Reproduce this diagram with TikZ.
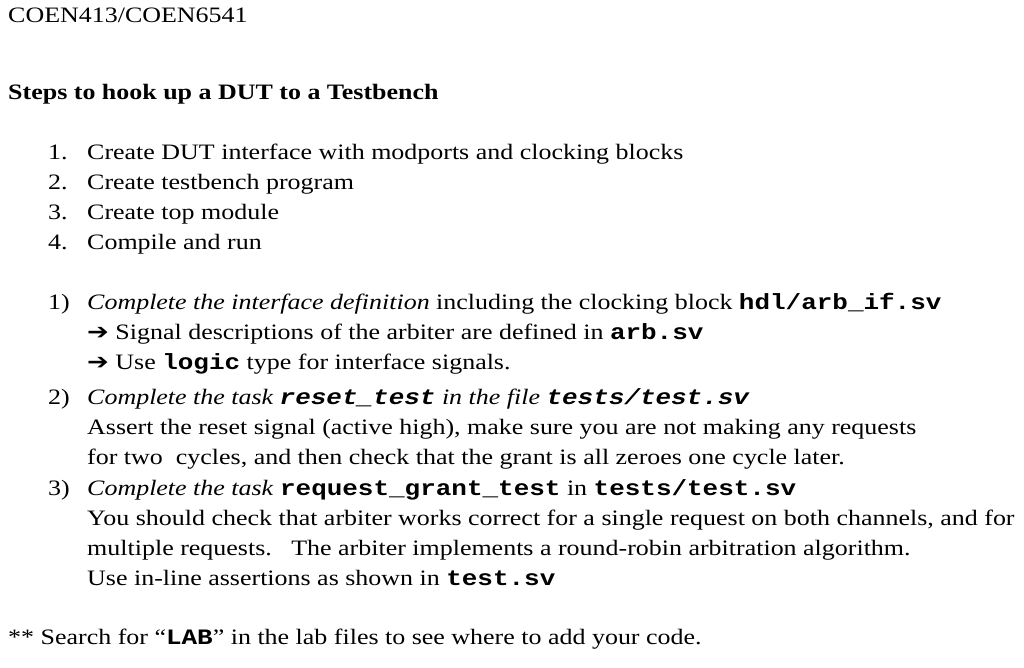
\documentclass[tikz,border=0pt]{standalone}
\usepackage{fontspec}
\setmainfont{Liberation Serif}
\setmonofont{Liberation Mono}
\newfontfamily\arrowfont{DejaVu Sans}
\newcommand{\code}[1]{{\ttfamily\bfseries #1}}
\newcommand{\rarr}{{\arrowfont\bfseries ➔}}

\begin{document}
\begin{tikzpicture}[x=1pt, y=-1pt,
	line/.style={anchor=base west, inner sep=0pt, xscale=1.18, font=\fontsize{22}{26}\selectfont}]
		%%%%% START %%%%%
		\useasboundingbox[fill=white] (0, 0) rectangle (1024, 668);
		
		\node[line] (course) at (8, 23) {COEN413/COEN6541};
		\node[line] (title) at (8, 100) {\textbf{Steps to hook up a DUT to a Testbench}};
		
		% numbered steps
		\foreach \n/\y/\txt in {1/160/Create DUT interface with modports and clocking blocks,
			2/190/Create testbench program,
			3/219/Create top module,
			4/249/Compile and run}
		{
			\node[line] (num\n) at (48, \y) {\n.};
			\node[line] (step\n) at (87, \y) {\txt};
		}
		
		% tasks
		\node[line] (task1) at (48, 309) {1)};
		\node[line] (task1a) at (87, 309) {\textit{Complete the interface definition} including the clocking block \code{hdl/arb\_if.sv}};
		\node[line] (task1b) at (87, 339) {\rarr\ Signal descriptions of the arbiter are defined in \code{arb.sv}};
		\node[line] (task1c) at (87, 369) {\rarr\ Use \code{logic} type for interface signals.};
		
		\node[line] (task2) at (48, 404) {2)};
		\node[line] (task2a) at (87, 404) {\textit{Complete the task \code{reset\_test} in the file \code{tests/test.sv}}};
		\node[line] (task2b) at (87, 434) {Assert the reset signal (active high), make sure you are not making any requests};
		\node[line] (task2c) at (87, 464) {for two\ \ cycles, and then check that the grant is all zeroes one cycle later.};
		
		\node[line] (task3) at (48, 495) {3)};
		\node[line] (task3a) at (87, 495) {\textit{Complete the task} \code{request\_grant\_test} in \code{tests/test.sv}};
		\node[line] (task3b) at (87, 525) {You should check that arbiter works correct for a single request on both channels, and for};
		\node[line] (task3c) at (87, 555) {multiple requests.\ \ \ The arbiter implements a round-robin arbitration algorithm.};
		\node[line] (task3d) at (87, 585) {Use in-line assertions as shown in \code{test.sv}};
		
		\node[line] (note) at (8, 644) {** Search for “\code{LAB}” in the lab files to see where to add your code.};
		
		%%%%% END %%%%%
	\end{tikzpicture}
\end{document}
